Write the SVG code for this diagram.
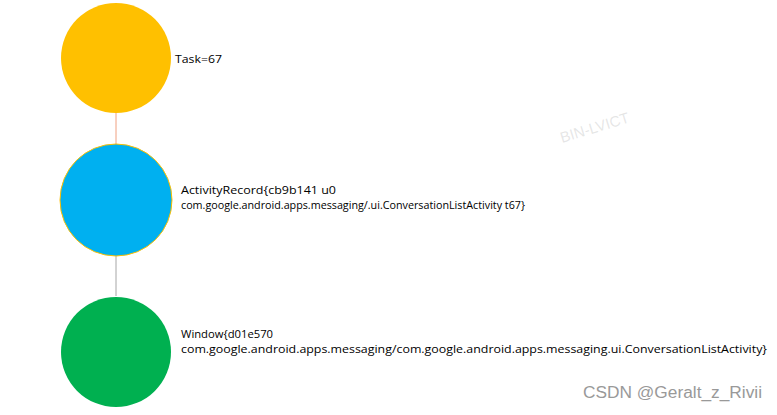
<svg xmlns="http://www.w3.org/2000/svg" width="777" height="415" viewBox="0 0 777 415">
<style>
.lbl{font-family:"Open Sans","Liberation Sans",sans-serif;font-size:11.5px;fill:#000}
.wm{font-family:"Liberation Sans",sans-serif;fill:#999}
</style>
<rect width="777" height="415" fill="#fff"/>
<g id="connectors">
<line x1="116" y1="113" x2="116" y2="144" stroke="#F0A080" stroke-width="1"/>
<line x1="116" y1="256" x2="116" y2="296" stroke="#A6A6A6" stroke-width="1"/>
</g>
<g id="task">
<circle cx="116" cy="58" r="55" fill="#FFC000"/>
<text class="lbl" x="175" y="63" textLength="47" lengthAdjust="spacingAndGlyphs">Task=67</text>
</g>
<g id="activity">
<circle cx="116" cy="200" r="56" fill="#00B0F0" stroke="#FFC000" stroke-width="1"/>
<text class="lbl" x="181" y="194" textLength="155" lengthAdjust="spacingAndGlyphs">ActivityRecord{cb9b141 u0</text>
<text class="lbl" x="181" y="208.5" textLength="344" lengthAdjust="spacingAndGlyphs">com.google.android.apps.messaging/.ui.ConversationListActivity t67}</text>
</g>
<g id="window">
<circle cx="116" cy="352" r="55" fill="#00B050"/>
<text class="lbl" x="181" y="338" textLength="92" lengthAdjust="spacingAndGlyphs">Window{d01e570</text>
<text class="lbl" x="181" y="352.5" textLength="586" lengthAdjust="spacingAndGlyphs">com.google.android.apps.messaging/com.google.android.apps.messaging.ui.ConversationListActivity}</text>
</g>
<text class="wm" x="562" y="143" font-size="15" fill-opacity="0.25" transform="rotate(-17 562 143)">BIN-LVICT</text>
<text class="wm" x="583" y="398" font-size="16" fill="#888" textLength="179" lengthAdjust="spacingAndGlyphs">CSDN @Geralt_z_Rivii</text>
</svg>
